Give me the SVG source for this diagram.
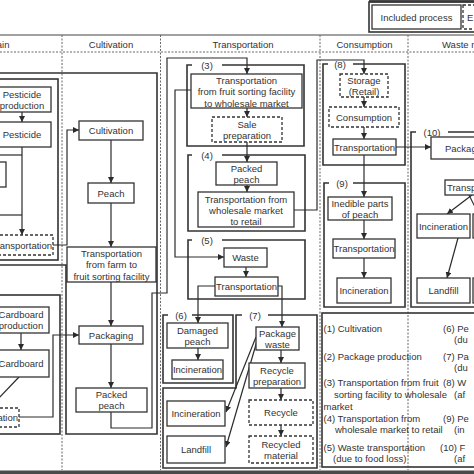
<svg xmlns="http://www.w3.org/2000/svg" width="474" height="474" viewBox="0 0 474 474">
<defs>
<marker id="ah" markerWidth="7" markerHeight="6" refX="6" refY="3" orient="auto" markerUnits="userSpaceOnUse"><path d="M0,0 L6,3 L0,6 z" fill="#2b2b2b"/></marker>
<style>
.t{font-family:"Liberation Sans",Arial,sans-serif;font-size:9.5px;fill:#333}
.c{text-anchor:middle}
.e{text-anchor:end}
.n{fill:#fff;stroke:#333;stroke-width:1.3}
.d{fill:#fff;stroke:#333;stroke-width:1.3;stroke-dasharray:3,2}
.g{fill:none;stroke:#333;stroke-width:1.6}
.k{fill:none;stroke:#2b2b2b;stroke-width:1.2}
.a{marker-end:url(#ah)}
.v{stroke:#666;stroke-width:1;stroke-dasharray:2,1.5;fill:none}
</style>
</defs>
<rect width="474" height="474" fill="#fff"/>
<g id="frame">
<rect x="369" y="0" width="105" height="2.5" fill="#4a4a4a"/>
<rect x="0" y="470.5" width="474" height="3.5" fill="#4a4a4a"/>
<line x1="0" y1="35" x2="474" y2="35" stroke="#444" stroke-width="1.2"/>
<line x1="0" y1="52" x2="474" y2="52" class="v"/>
<line x1="62" y1="35" x2="62" y2="470" class="v"/>
<line x1="160.5" y1="35" x2="160.5" y2="470" class="v"/>
<line x1="320" y1="35" x2="320" y2="470" class="v"/>
<line x1="408" y1="35" x2="408" y2="470" class="v"/>
<text class="t e" x="9.5" y="47.5">ain</text>
<text class="t c" x="111" y="47.5">Cultivation</text>
<text class="t c" x="243" y="47.5">Transportation</text>
<text class="t c" x="364.5" y="47.5">Consumption</text>
<text class="t" x="442" y="47.5">Waste m</text>
</g>
<g id="legend-top">
<rect x="369" y="2" width="110" height="30" class="g"/>
<rect x="372" y="5" width="89" height="24" class="n"/>
<text class="t c" x="416.5" y="20.5">Included process</text>
<rect x="463" y="5" width="30" height="24" class="d"/>
<text class="t" x="467" y="20.5">E</text>
</g>
<g id="groups">
<path class="g" d="M-5,73 H157 V434 H66 V265 H-5"/>
<rect class="g" x="-10" y="79" width="68" height="181"/>
<rect class="g" x="-10" y="295" width="70" height="139"/>
<path class="g" d="M192,65 H187 V146 H304 V65 H222"/>
<text class="t c" x="207" y="68.5">(3)</text>
<path class="g" d="M192,155 H188 V231 H305 V155 H222"/>
<text class="t c" x="207" y="158.5">(4)</text>
<path class="g" d="M192,240 H188 V299 H305 V240 H222"/>
<text class="t c" x="207" y="243.5">(5)</text>
<path class="g" d="M168,315 H163 V383 H233 V315 H192"/>
<text class="t c" x="181" y="318.5">(6)</text>
<path class="g" d="M242,315 H236 V388 H163 V468 H317 V315 H268"/>
<text class="t c" x="255" y="318.5">(7)</text>
<path class="g" d="M328,64 H323 V165 H405 V64 H353"/>
<text class="t c" x="340" y="67.5">(8)</text>
<path class="g" d="M329,183 H324 V307 H405 V183 H353"/>
<text class="t c" x="342" y="186.5">(9)</text>
<path class="g" d="M416,132 H411 V307 H480 M448,132 H480"/>
<text class="t c" x="432" y="135.5">(10)</text>
</g>
<g id="connectors">
<path class="k a" d="M22,112 V122"/>
<path class="k a" d="M22,147 V235"/>
<path class="k" d="M-5,155 H22"/>
<path class="k" d="M-5,215 H22"/>
<path class="k a" d="M53,245 H67 V130 H79"/>
<path class="k a" d="M111,140 V183"/>
<path class="k a" d="M111,203 V247"/>
<path class="k a" d="M111,282 V326"/>
<path class="k a" d="M111,344 V388"/>
<path class="k a" d="M111,412 V428 H152 V293 H167 V58 H247 V74"/>
<path class="k a" d="M21,333 V350"/>
<path class="k" d="M19,377 L-3,400"/>
<path class="k a" d="M19,417 H53 V335 H79"/>
<path class="k a" d="M247,108 V117"/>
<path class="k a" d="M247,142 V162"/>
<path class="k a" d="M247,185 V192"/>
<path class="k a" d="M294,210 H317 V60 H364 V74"/>
<path class="k a" d="M191,90 H175 V257 H224"/>
<path class="k a" d="M246,267 V277"/>
<path class="k a" d="M215,286 H198 V323"/>
<path class="k a" d="M278,286 H282 V327"/>
<path class="k a" d="M198,348 V360"/>
<path class="k a" d="M281,350 V363"/>
<path class="k a" d="M281,388 V400"/>
<path class="k a" d="M281,425 V436"/>
<path class="k a" d="M256,337 L226,412"/>
<path class="k a" d="M257,341 L226,447"/>
<path class="k a" d="M364,97 V107"/>
<path class="k a" d="M364,127 V139"/>
<path class="k a" d="M396,147 H431"/>
<path class="k a" d="M364,155 V197"/>
<path class="k a" d="M364,220 V239"/>
<path class="k a" d="M364,258 V278"/>
<path class="k a" d="M472,195 L447,214"/>
<path class="k" d="M469,195 L478,213"/>
<path class="k a" d="M458,238 L447,278"/>
</g>
<g id="pesticide-production"><rect class="n" x="-7" y="87" width="58" height="25"/><text class="t c" x="22" y="97.5">Pesticide</text><text class="t c" x="22" y="108.5">production</text></g>
<g id="pesticide"><rect class="n" x="-7" y="122" width="58" height="25"/><text class="t c" x="22" y="138">Pesticide</text></g>
<g id="left-box"><rect class="n" x="-20" y="162" width="26" height="25"/></g>
<g id="pesticide-transportation"><rect class="d" x="-10" y="235" width="63" height="20"/><text class="t e" x="52" y="248.5">Transportation</text></g>
<g id="cultivation"><rect class="n" x="79" y="121" width="64" height="19"/><text class="t c" x="111" y="133.5">Cultivation</text></g>
<g id="peach"><rect class="n" x="88" y="183" width="46" height="20"/><text class="t c" x="111" y="196.5">Peach</text></g>
<g id="transport-farm"><rect class="n" x="67" y="247" width="89" height="35"/><text class="t c" x="111.5" y="256.5">Transportation</text><text class="t c" x="111.5" y="268">from farm to</text><text class="t c" x="111.5" y="279.5">fruit sorting facility</text></g>
<g id="packaging"><rect class="n" x="79" y="326" width="64" height="18"/><text class="t c" x="111" y="338.5">Packaging</text></g>
<g id="packed-peach-1"><rect class="n" x="76" y="388" width="71" height="24"/><text class="t c" x="111.5" y="398">Packed</text><text class="t c" x="111.5" y="409">peach</text></g>
<g id="cardboard-production"><rect class="n" x="-7" y="307" width="56" height="26"/><text class="t c" x="21" y="317.5">Cardboard</text><text class="t c" x="21" y="329">production</text></g>
<g id="cardboard"><rect class="n" x="-7" y="350" width="56" height="27"/><text class="t c" x="21" y="366.5">Cardboard</text></g>
<g id="cardboard-transportation"><rect class="d" x="-45" y="408" width="64" height="19"/><text class="t e" x="18" y="421">Transportation</text></g>
<g id="transport-3"><rect class="n" x="191" y="74" width="111" height="34"/><text class="t c" x="246.5" y="83.5">Transportation</text><text class="t c" x="246.5" y="95">from fruit sorting facility</text><text class="t c" x="246.5" y="106.5">to wholesale market</text></g>
<g id="sale-preparation"><rect class="d" x="212" y="117" width="70" height="25"/><text class="t c" x="247" y="127.5">Sale</text><text class="t c" x="247" y="139">preparation</text></g>
<g id="packed-peach-4"><rect class="n" x="216" y="162" width="61" height="23"/><text class="t c" x="246.5" y="171.5">Packed</text><text class="t c" x="246.5" y="183">peach</text></g>
<g id="transport-4"><rect class="n" x="198" y="192" width="96" height="35"/><text class="t c" x="246" y="202.5">Transportation from</text><text class="t c" x="246" y="214">wholesale market</text><text class="t c" x="246" y="225">to retail</text></g>
<g id="waste"><rect class="n" x="224" y="248" width="43" height="19"/><text class="t c" x="245.5" y="261">Waste</text></g>
<g id="transport-5"><rect class="n" x="215" y="277" width="63" height="19"/><text class="t c" x="246.5" y="290">Transportation</text></g>
<g id="damaged-peach"><rect class="n" x="167" y="323" width="61" height="25"/><text class="t c" x="197.5" y="334">Damaged</text><text class="t c" x="197.5" y="345">peach</text></g>
<g id="incineration-6"><rect class="n" x="172" y="360" width="51" height="19"/><text class="t c" x="197.5" y="373">Incineration</text></g>
<g id="package-waste"><rect class="n" x="256" y="327" width="43" height="23"/><text class="t c" x="277.5" y="336.5">Package</text><text class="t c" x="277.5" y="347.5">waste</text></g>
<g id="recycle-preparation"><rect class="n" x="249" y="363" width="56" height="25"/><text class="t c" x="277" y="373.5">Recycle</text><text class="t c" x="277" y="384.5">preparation</text></g>
<g id="recycle"><rect class="d" x="249" y="400" width="64" height="25"/><text class="t c" x="281" y="416">Recycle</text></g>
<g id="recycled-material"><rect class="d" x="249" y="436" width="64" height="27"/><text class="t c" x="281" y="447.5">Recycled</text><text class="t c" x="281" y="458.5">material</text></g>
<g id="incineration-7"><rect class="n" x="167" y="401" width="58" height="25"/><text class="t c" x="196" y="417">Incineration</text></g>
<g id="landfill-7"><rect class="n" x="167" y="436" width="58" height="27"/><text class="t c" x="196" y="453">Landfill</text></g>
<g id="storage"><rect class="d" x="340" y="74" width="48" height="23"/><text class="t c" x="364" y="83.5">Storage</text><text class="t c" x="364" y="94.5">(Retail)</text></g>
<g id="consumption"><rect class="d" x="329" y="107" width="70" height="20"/><text class="t c" x="364" y="120.5">Consumption</text></g>
<g id="transport-8"><rect class="n" x="333" y="139" width="63" height="16"/><text class="t c" x="364.5" y="150.5">Transportation</text></g>
<g id="inedible-parts"><rect class="n" x="328" y="197" width="64" height="23"/><text class="t c" x="360" y="206.5">Inedible parts</text><text class="t c" x="360" y="217.5">of peach</text></g>
<g id="transport-9"><rect class="n" x="333" y="239" width="62" height="19"/><text class="t c" x="364" y="252">Transportation</text></g>
<g id="incineration-9"><rect class="n" x="337" y="278" width="54" height="25"/><text class="t c" x="364" y="294">Incineration</text></g>
<g id="package-10"><rect class="n" x="431" y="137" width="60" height="22"/><text class="t" x="445" y="151.5">Packag</text></g>
<g id="transport-10"><rect class="n" x="445" y="180" width="40" height="15"/><text class="t" x="447" y="191">Transp</text></g>
<g id="incineration-10"><rect class="n" x="417" y="214" width="53" height="24"/><text class="t c" x="443.5" y="229.5">Incineration</text></g>
<g id="box-right-1"><rect class="n" x="473" y="214" width="20" height="24"/></g>
<g id="landfill-10"><rect class="n" x="417" y="278" width="53" height="25"/><text class="t c" x="443.5" y="294">Landfill</text></g>
<g id="box-right-2"><rect class="n" x="473" y="278" width="20" height="25"/></g>
<g id="legend-list">
<rect class="g" x="322" y="313" width="160" height="154"/>
<text class="t" x="323.5" y="331.5">(1) Cultivation</text>
<text class="t" x="323.5" y="359.5">(2) Package production</text>
<text class="t" x="323.5" y="385.5">(3) Transportation from fruit</text>
<text class="t" x="334" y="397.5">sorting facility to wholesale</text>
<text class="t" x="323.5" y="409.5">market</text>
<text class="t" x="323.5" y="421.5">(4) Transportation from</text>
<text class="t" x="335" y="432.5">wholesale market to retail</text>
<text class="t" x="323.5" y="450.5">(5) Waste transportation</text>
<text class="t" x="333" y="461.5">(due to food loss)</text>
<text class="t" x="443" y="331.5">(6) Pe</text>
<text class="t" x="454" y="342.5">(du</text>
<text class="t" x="443" y="359.5">(7) Pa</text>
<text class="t" x="454" y="370.5">(du</text>
<text class="t" x="443" y="385.5">(8) W</text>
<text class="t" x="454" y="397.5">(af</text>
<text class="t" x="443" y="421.5">(9) Pe</text>
<text class="t" x="454" y="432.5">(in</text>
<text class="t" x="440" y="450.5">(10) F</text>
<text class="t" x="454" y="461.5">(af</text>
</g>
</svg>
